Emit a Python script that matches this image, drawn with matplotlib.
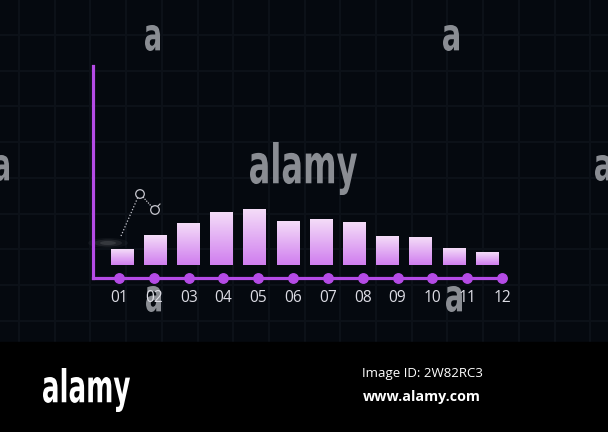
import numpy as np
import matplotlib
matplotlib.use("Agg")
from matplotlib import pyplot as plt
from matplotlib.colors import LinearSegmentedColormap
from matplotlib.patches import Rectangle, Circle, Ellipse, PathPatch
from matplotlib.textpath import TextPath
from matplotlib.font_manager import FontProperties
from matplotlib.transforms import Affine2D

months = ["01", "02", "03", "04", "05", "06", "07", "08", "09", "10", "11", "12"]
values = [16, 30, 42, 53, 56, 44, 46, 43, 29, 28, 17, 13]

bg_col = "#05090f"
grid_col = "#0c1118"
purple = "#b54be6"
bar_cmap = LinearSegmentedColormap.from_list("bar", ["#d07eef", "#f4dcf8"])

W, H = 608, 432
fig = plt.figure(figsize=(W / 100, H / 100), dpi=100, facecolor=bg_col)

# full-figure pixel axes for background, grid and watermark
bg = fig.add_axes([0, 0, 1, 1])
bg.set_xlim(0, W)
bg.set_ylim(H, 0)
bg.axis("off")
bg.add_patch(Rectangle((0, 0), W, H, color=bg_col, zorder=0))
for gx in np.arange(19, W, 35.7):
    bg.plot([gx, gx], [0, 342], color=grid_col, lw=1.5, zorder=1)
for gy in np.arange(35, 342, 35.7):
    bg.plot([0, W], [gy, gy], color=grid_col, lw=1.5, zorder=1)
bg.add_patch(Rectangle((0, 342), W, H - 342, color="#000000", zorder=2))


def fit_text(ax, s, x0, x1, y0, y1, color, family="Liberation Sans Narrow",
             weight="bold", z=20):
    tp = TextPath((0, 0), s, size=1, prop=FontProperties(family=family, weight=weight))
    bb = tp.get_extents()
    sx = (x1 - x0) / bb.width
    sy = (y1 - y0) / bb.height
    tr = Affine2D().translate(-bb.x0, -bb.y1).scale(sx, -sy).translate(x0, y0)
    ax.add_patch(PathPatch(tr.transform_path(tp), color=color, lw=0, zorder=z))


# decorative glow and small line sketch
for w, a in [(40, 0.04), (28, 0.07), (16, 0.1)]:
    bg.add_patch(Ellipse((108, 243), w, w * 0.25, color="white", alpha=a, lw=0, zorder=3))
bg.plot([121, 138], [236, 197], color="#c8c8d0", lw=0.9, ls=(0, (1, 1.5)), zorder=4)
bg.plot([143, 152], [197, 207], color="#c8c8d0", lw=0.9, ls=(0, (1, 1)), zorder=4)
bg.add_patch(Circle((140, 194), 4.3, fill=False, ec="#c8c8d0", lw=0.9, zorder=4))
bg.add_patch(Circle((155, 210), 4.3, fill=False, ec="#c8c8d0", lw=0.9, zorder=4))
bg.plot([158, 160], [206, 204], color="#c8c8d0", lw=0.8, zorder=4)

# axes with the dots and month labels
rect = [93 / W, 1 - 278 / H, (502 - 93) / W, (278 - 66) / H]
ax = fig.add_axes(rect)
ax.patch.set_alpha(0)
x = np.arange(1, 13)
ax.set_xlim(0.253, 12)
ax.set_ylim(-13, 199)
for sp in ["top", "right"]:
    ax.spines[sp].set_visible(False)
for sp in ["left", "bottom"]:
    ax.spines[sp].set_color(purple)
    ax.spines[sp].set_linewidth(2.3)
ax.plot(x, np.full(12, -13), "o", color=purple, ms=6.8, clip_on=False, zorder=5)
ax.set_xticks(x)
ax.set_xticklabels(months, family="Open Sans", fontsize=11.2, color="#dcdce4")
ax.tick_params(axis="x", length=0, pad=9)
ax.set_yticks([])

# bars on their own axes
bx = fig.add_axes(rect)
bx.axis("off")
bx.patch.set_alpha(0)
bw = 0.663
for xi, v in zip(x, values):
    r = Rectangle((xi - bw / 2, 0), bw, v, fc="none", ec="none")
    bx.add_patch(r)
    im = bx.imshow(np.linspace(0, 1, 64).reshape(-1, 1), cmap=bar_cmap, origin="lower",
                   extent=(xi - bw / 2, xi + bw / 2, 0, v), aspect="auto", zorder=3)
    im.set_clip_path(r)
bx.set_xlim(0.135, 12.458)
bx.set_ylim(-13, 199)

# watermark
wm = "#8a8d93"
fit_text(bg, "alamy", 250, 357, 142, 195, wm)
for box in [(145, 160, 25, 51), (443, 459, 25, 51), (-6, 9, 155, 181),
            (595, 611, 155, 181), (146, 161, 286, 312), (446, 462, 286, 312)]:
    fit_text(bg, "a", *box, wm)
fit_text(bg, "alamy", 43, 130, 368, 412, "white")
bg.text(422, 374, "Image ID: 2W82RC3", family="Open Sans", fontsize=9.5,
        color="white", ha="center", va="center", zorder=20)
bg.text(422, 397, "www.alamy.com", family="Open Sans", fontsize=10.3,
        weight="bold", color="white", ha="center", va="center", zorder=20)

fig.savefig("out.png", dpi=100, facecolor=bg_col)
